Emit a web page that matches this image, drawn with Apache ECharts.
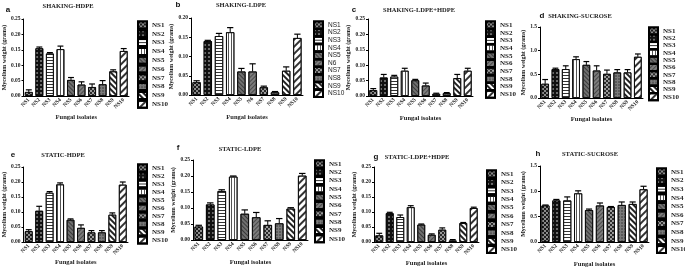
<!DOCTYPE html>
<html>
<head>
<meta charset="utf-8">
<script src="https://cdn.jsdelivr.net/npm/echarts@6/dist/echarts.min.js"></script>
<style>
  html, body { margin: 0; padding: 0; background: #fff; }
  #chart { width: 685px; height: 270px; }
</style>
</head>
<body>
<div id="chart"></div>
<script>
// data
var isolates = ["NS1", "NS2", "NS3", "NS4", "NS5", "NS6", "NS7", "NS8", "NS9", "NS10"];
var isolatesB = ["NS1", "NS2", "NS3", "NS4", "NS5", "N6", "NS7", "NS8", "NS9", "NS10"];

var shakingHdpe = [0.013, 0.155, 0.138, 0.152, 0.052, 0.037, 0.029, 0.038, 0.080, 0.146];
var shakingHdpeErr = [0.007, 0.004, 0.003, 0.010, 0.008, 0.009, 0.010, 0.012, 0.005, 0.008];
var shakingLdpe = [0.033, 0.140, 0.153, 0.163, 0.061, 0.061, 0.020, 0.007, 0.063, 0.148];
var shakingLdpeErr = [0.004, 0.002, 0.007, 0.012, 0.008, 0.020, 0.003, 0.002, 0.010, 0.010];
var shakingMix = [0.019, 0.060, 0.063, 0.082, 0.051, 0.034, 0.007, 0.009, 0.058, 0.082];
var shakingMixErr = [0.005, 0.010, 0.004, 0.008, 0.003, 0.008, 0.002, 0.002, 0.012, 0.008];
var shakingSucrose = [0.30, 0.61, 0.61, 0.82, 0.70, 0.58, 0.51, 0.54, 0.54, 0.87];
var shakingSucroseErr = [0.09, 0.02, 0.07, 0.05, 0.07, 0.10, 0.08, 0.06, 0.06, 0.06];
var staticHdpe = [0.036, 0.104, 0.164, 0.192, 0.074, 0.047, 0.032, 0.032, 0.091, 0.191];
var staticHdpeErr = [0.005, 0.015, 0.004, 0.005, 0.003, 0.010, 0.006, 0.006, 0.006, 0.009];
var staticLdpe = [0.042, 0.111, 0.153, 0.198, 0.082, 0.071, 0.047, 0.052, 0.098, 0.201];
var staticLdpeErr = [0.004, 0.005, 0.004, 0.002, 0.012, 0.015, 0.013, 0.015, 0.003, 0.007];
var staticMix = [0.022, 0.096, 0.083, 0.116, 0.058, 0.024, 0.041, 0.005, 0.063, 0.113];
var staticMixErr = [0.007, 0.003, 0.007, 0.005, 0.002, 0.003, 0.006, 0.003, 0.002, 0.003];
var staticSucrose = [0.72, 0.82, 0.82, 0.96, 0.63, 0.72, 0.69, 0.73, 0.75, 1.04];
var staticSucroseErr = [0.01, 0.02, 0.07, 0.05, 0.02, 0.05, 0.01, 0.06, 0.04, 0.06];

var panelTitles = ["SHAKING-HDPE", "SHAKING-LDPE", "SHAKING-LDPE+HDPE", "SHAKING-SUCROSE",
  "STATIC-HDPE", "STATIC-LDPE", "STATIC-LDPE+HDPE", "STATIC-SUCROSE"];
var panelLetters = ["a", "b", "c", "d", "e", "f", "g", "h"];
var panelValues = [shakingHdpe, shakingLdpe, shakingMix, shakingSucrose, staticHdpe, staticLdpe, staticMix, staticSucrose];
var panelErrors = [shakingHdpeErr, shakingLdpeErr, shakingMixErr, shakingSucroseErr, staticHdpeErr, staticLdpeErr, staticMixErr, staticSucroseErr];
var panelMax = [0.25, 0.20, 0.25, 1.5, 0.25, 0.25, 0.25, 1.5];
var panelStep = [0.05, 0.05, 0.05, 0.5, 0.05, 0.05, 0.05, 0.5];

// layout (pixels): grid box, name gaps, legend (first item centre + step), title/letter spots
var layout = [
  { l: 22, r: 129, t: 19, b: 96, yGap: 15, xGap: 18, lgX: 137, lgY: 25, lgStep: 8.8, tx: 68, ty: 6, lx: 8, ly: 10 },
  { l: 191, r: 303, t: 18, b: 95, yGap: 10, xGap: 19, lgX: 313, lgY: 25, lgStep: 7.6, tx: 241, ty: 5, lx: 178, ly: 5 },
  { l: 368, r: 473, t: 19, b: 96, yGap: 12, xGap: 19, lgX: 485, lgY: 25, lgStep: 7.7, tx: 419, ty: 10, lx: 354, ly: 10 },
  { l: 540, r: 643, t: 27, b: 98, yGap: 11, xGap: 18, lgX: 648, lgY: 31, lgStep: 7.3, tx: 580, ty: 16, lx: 542, ly: 16 },
  { l: 22, r: 128, t: 167, b: 242, yGap: 15, xGap: 15, lgX: 137, lgY: 168, lgStep: 8.0, tx: 63, ty: 155, lx: 13, ly: 155 },
  { l: 193, r: 308, t: 160, b: 240, yGap: 14, xGap: 19, lgX: 314, lgY: 164, lgStep: 8.3, tx: 240, ty: 149, lx: 178, ly: 148 },
  { l: 374, r: 479, t: 167, b: 242, yGap: 12, xGap: 18, lgX: 486, lgY: 174, lgStep: 8.4, tx: 417, ty: 157, lx: 376, ly: 157 },
  { l: 540, r: 649, t: 166, b: 242, yGap: 10, xGap: 19, lgX: 656, lgY: 172, lgStep: 8.6, tx: 590, ty: 154, lx: 538, ly: 154 }
];

var serif = "'Liberation Serif', 'DejaVu Serif', serif";
var legendItemH = 9; // measured height of one legend row before the gap

// hatch-like fills for the ten isolates
var fills = [
  { color: "#1c1c1c", decal: { symbol: "rect", color: "#8a8a8a", dashArrayX: [[1.2, 1.2], [0, 1.2, 1.2, 0]], dashArrayY: [1.2, 0] } },
  { color: "#111111", decal: { symbol: "circle", color: "#e0e0e0", symbolSize: 0.8, dashArrayX: [1.6, 1.2], dashArrayY: [1.6, 1.2] } },
  { color: "#ffffff", decal: { symbol: "rect", color: "#333333", dashArrayX: [1, 0], dashArrayY: [1, 1.2] } },
  { color: "#ffffff", decal: { symbol: "rect", color: "#555555", dashArrayX: [1, 1.4], dashArrayY: [1, 0] } },
  { color: "#707070", decal: { symbol: "rect", color: "#3a3a3a", dashArrayX: [1, 0], dashArrayY: [1, 1.4], rotation: Math.PI / 4 } },
  { color: "#7c7c7c", decal: { symbol: "rect", color: "#4a4a4a", dashArrayX: [1, 0], dashArrayY: [1, 1.8], rotation: -Math.PI / 4 } },
  { color: "#9a9a9a", decal: { symbol: "rect", color: "#2a2a2a", dashArrayX: [[1.4, 1.4], [0, 1.4, 1.4, 0]], dashArrayY: [1.4, 0] } },
  { color: "#7a7a7a", decal: { symbol: "circle", color: "#333333", symbolSize: 0.8, dashArrayX: [1.4, 1], dashArrayY: [1.4, 1] } },
  { color: "#ffffff", decal: { symbol: "rect", color: "#222222", dashArrayX: [1, 0], dashArrayY: [1.4, 1.6], rotation: Math.PI / 4 } },
  { color: "#ffffff", decal: { symbol: "rect", color: "#333333", dashArrayX: [1, 0], dashArrayY: [1.3, 2.2], rotation: -Math.PI / 4 } }
];

function renderErr(params, api) {
  var x = api.value(0), v = api.value(1), e = api.value(2);
  var base = api.coord([x, v]);
  var top = api.coord([x, v + e]);
  var half = api.size([1, 0])[0] * 0.28;
  return {
    type: "group",
    children: [
      { type: "line", shape: { x1: base[0], y1: base[1], x2: top[0], y2: top[1] }, style: { stroke: "#000", lineWidth: 1 } },
      { type: "line", shape: { x1: top[0] - half, y1: top[1], x2: top[0] + half, y2: top[1] }, style: { stroke: "#000", lineWidth: 1.2 } }
    ]
  };
}

var grids = [], xAxes = [], yAxes = [], series = [], legends = [], graphics = [];

layout.forEach(function (g, p) {
  var names = p === 1 ? isolatesB : isolates;
  var vals = panelValues[p];
  var errs = panelErrors[p];
  var big = panelMax[p] > 1;

  grids.push({ left: g.l, top: g.t, width: g.r - g.l, height: g.b - g.t });

  xAxes.push({
    type: "category", gridIndex: p, data: names,
    name: "Fungal isolates", nameLocation: "middle", nameGap: g.xGap,
    nameTextStyle: { fontFamily: serif, fontWeight: "bold", fontSize: 6.5, color: "#222" },
    axisLine: { lineStyle: { color: "#000", width: 1 } },
    axisTick: { alignWithLabel: true, length: 2, lineStyle: { color: "#000" } },
    axisLabel: { rotate: 45, interval: 0, margin: 3, fontFamily: serif, fontWeight: "bold", fontSize: 5.5, color: "#222" }
  });

  yAxes.push({
    type: "value", gridIndex: p, min: 0, max: panelMax[p], interval: panelStep[p],
    name: "Mycelium weight (grams)", nameLocation: "middle", nameGap: g.yGap,
    nameTextStyle: { fontFamily: serif, fontWeight: "bold", fontSize: 6, color: "#222" },
    axisLine: { show: true, lineStyle: { color: "#000", width: 1 } },
    axisTick: { show: true, length: 2, lineStyle: { color: "#000" } },
    splitLine: { show: false },
    axisLabel: {
      margin: 3, fontFamily: serif, fontWeight: "bold", fontSize: 5.5, color: "#222",
      formatter: function (v) { return v.toFixed(big ? 1 : 2); }
    }
  });

  names.forEach(function (nm, i) {
    series.push({
      type: "bar", name: nm, xAxisIndex: p, yAxisIndex: p,
      data: vals.map(function (v, j) { return j === i ? v : "-"; }),
      barGap: "-100%", barCategoryGap: "26%",
      itemStyle: { color: fills[i].color, borderColor: "#000", borderWidth: 0.8, decal: fills[i].decal },
      silent: true, animation: false
    });
  });

  series.push({
    type: "custom", name: "err" + p, xAxisIndex: p, yAxisIndex: p, z: 5,
    renderItem: renderErr, encode: { x: 0, y: 1 },
    data: vals.map(function (v, j) { return [j, v, errs[j]]; }),
    silent: true, animation: false
  });

  legends.push({
    orient: "vertical", left: g.lgX, top: g.lgY - legendItemH / 2, data: names, icon: "rect",
    padding: 0, itemWidth: 9, itemHeight: 7, itemGap: g.lgStep - legendItemH, selectedMode: false,
    textStyle: p === 1
      ? { fontFamily: "'Liberation Sans', Arial, sans-serif", fontSize: 6.5, color: "#222" }
      : { fontFamily: serif, fontWeight: "bold", fontSize: 7, color: "#222" }
  });

  graphics.push({
    type: "text", x: g.tx, y: g.ty,
    style: { text: panelTitles[p], font: "bold 6.5px " + serif, fill: "#222", textAlign: "center", textVerticalAlign: "middle" }
  });
  graphics.push({
    type: "text", x: g.lx, y: g.ly,
    style: { text: panelLetters[p], font: "bold 8px 'Liberation Sans', Arial, sans-serif", fill: "#111", textAlign: "center", textVerticalAlign: "middle" }
  });
});

var chart = echarts.init(document.getElementById("chart"), null, { renderer: "canvas" });
chart.setOption({
  backgroundColor: "#fff",
  animation: false,
  grid: grids,
  xAxis: xAxes,
  yAxis: yAxes,
  legend: legends,
  graphic: graphics,
  series: series
});
</script>
</body>
</html>
